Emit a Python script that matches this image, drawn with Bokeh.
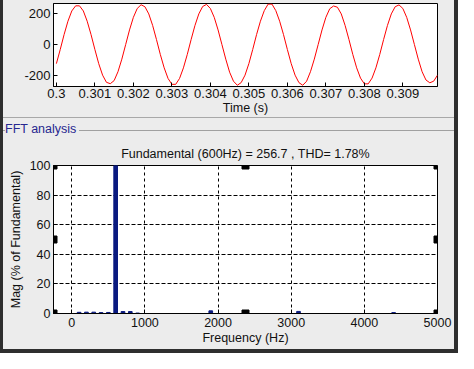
from bokeh.plotting import figure
from bokeh.models import FixedTicker, Range1d, Div
from bokeh.layouts import column
from bokeh.embed import file_html
from bokeh.resources import INLINE

# ---------------- data ----------------
t_start = 0.3
t_step = 0.0001
voltage = [
    -123, -32, 64, 150, 216, 249, 249, 216, 150, 64,
    -32, -123, -197, -243, -252, -232, -175, -94, 0, 94,
    175, 232, 256, 243, 197, 123, 32, -64, -150, -218,
    -256, -256, -218, -150, -64, 32, 123, 197, 245, 258,
    232, 175, 94, 0, -94, -178, -236, -262, -245, -197,
    -123, -32, 64, 150, 218, 260, 260, 218, 150, 64,
    -32, -123, -197, -245, -262, -236, -175, -94, 0, 94,
    175, 230, 248, 240, 197, 123, 32, -64, -150, -216,
    -253, -253, -216, -150, -64, 32, 123, 197, 243, 255,
    232, 175, 94, 0, -94, -175, -228, -246, -236, -197,
]
time_s = [t_start + t_step * i for i in range(len(voltage))]
time_ticks = [0.3, 0.301, 0.302, 0.303, 0.304, 0.305, 0.306, 0.307, 0.308, 0.309]
time_tick_labels = ["0.3", "0.301", "0.302", "0.303", "0.304", "0.305",
                    "0.306", "0.307", "0.308", "0.309"]
volt_ticks = [-200, 0, 200]
volt_tick_labels = ["-200", "0", "200"]

freq_hz = [100, 200, 300, 400, 500, 600, 700, 800, 900, 1900, 3100, 4400]
mag_pct = [0.8, 0.9, 0.9, 0.6, 0.7, 100, 1.3, 1.3, 0.3, 1.8, 1.4, 0.6]
freq_ticks = [0, 1000, 2000, 3000, 4000, 5000]
mag_ticks = [0, 20, 40, 60, 80, 100]

fft_title = "Fundamental (600Hz) = 256.7 , THD= 1.78%"

# ---------------- style ----------------
BG = "#ececec"
FONT = "Liberation Sans"
FS = "12.5px"
TXT = "#111111"
W = 451


def style_axes(p, fs=FS):
    for ax in (p.xaxis[0], p.yaxis[0]):
        ax.axis_line_color = "black"
        ax.major_tick_line_color = "black"
        ax.major_tick_in = 4
        ax.major_tick_out = 0
        ax.minor_tick_line_color = None
        ax.major_label_text_font = FONT
        ax.major_label_text_font_size = fs
        ax.major_label_text_color = TXT
        ax.axis_label_text_font = FONT
        ax.axis_label_text_font_size = FS
        ax.axis_label_text_font_style = "normal"
        ax.axis_label_text_color = TXT
    p.outline_line_color = "black"
    p.outline_line_alpha = 1.0
    p.background_fill_color = "white"
    p.border_fill_color = BG


# ---------------- top: time signal ----------------
p1 = figure(width=W, height=117, output_backend="svg", toolbar_location=None,
            x_range=Range1d(0.299925, 0.3099), y_range=Range1d(-270, 264),
            min_border_left=50, min_border_right=17, min_border_top=3,
            min_border_bottom=30)
p1.line(time_s, voltage, line_color="#ff0000", line_width=1)
p1.xaxis.ticker = FixedTicker(ticks=time_ticks)
p1.xaxis.major_label_overrides = dict(zip(time_ticks, time_tick_labels))
p1.yaxis.ticker = FixedTicker(ticks=volt_ticks)
p1.yaxis.major_label_overrides = dict(zip(volt_ticks, volt_tick_labels))
p1.xaxis.axis_label = "Time (s)"
p1.xaxis.major_label_standoff = 2
p1.xaxis.axis_label_standoff = 0
p1.yaxis.major_label_standoff = 3
p1.grid.visible = False
style_axes(p1, "13px")

# ---------------- middle: group-box caption ----------------
html = (
    f'<div style="position:relative;width:{W}px;height:21px;background:{BG};'
    f'border-top:1px solid #a8a8a8;box-sizing:border-box;">'
    f'<div style="position:absolute;left:0;right:0;top:12px;border-top:1px solid #a0a0a0;"></div>'
    f'<span style="position:absolute;left:2px;top:4px;padding-right:3px;background:{BG};'
    f'color:#27278f;font-family:\'{FONT}\';font-size:12.5px;line-height:14px;">FFT analysis</span>'
    f'</div>'
)
fft_div = Div(text=html, width=W, height=21, margin=(0, 0, 0, 0),
              styles={"background-color": BG})

# ---------------- bottom: FFT bars ----------------
x_lo, x_hi = -250, 5000
y_lo, y_hi = 0, 100
p2 = figure(width=W, height=211, output_backend="svg", toolbar_location=None,
            x_range=Range1d(x_lo, x_hi), y_range=Range1d(y_lo, y_hi),
            min_border_left=48, min_border_right=15, min_border_top=27,
            min_border_bottom=36)
p2.title.text = fft_title
p2.title.align = "center"
p2.title.text_font = FONT
p2.title.text_font_size = FS
p2.title.text_font_style = "normal"
p2.title.text_color = TXT
p2.vbar(x=freq_hz, top=mag_pct, width=50, bottom=0,
        fill_color="#0a1a80", line_color="#0a1a80")
p2.xaxis.ticker = FixedTicker(ticks=freq_ticks)
p2.yaxis.ticker = FixedTicker(ticks=mag_ticks)
p2.xaxis.axis_label = "Frequency (Hz)"
p2.yaxis.axis_label = "Mag (% of Fundamental)"
p2.xaxis.major_label_standoff = 4
p2.xaxis.axis_label_standoff = 1
p2.yaxis.major_label_standoff = 3
p2.yaxis.axis_label_standoff = 4
p2.xgrid.ticker = FixedTicker(ticks=freq_ticks)
p2.ygrid.ticker = FixedTicker(ticks=mag_ticks)
p2.xgrid.grid_line_color = "black"
p2.xgrid.grid_line_dash = "3 3"
p2.xgrid.grid_line_alpha = 1.0
p2.ygrid.grid_line_color = "black"
p2.ygrid.grid_line_dash = "4 2"
p2.ygrid.grid_line_alpha = 1.0
style_axes(p2)

# selection handles on the frame (corners and mid-edges)
x_mid = (x_lo + x_hi) / 2
y_mid = (y_lo + y_hi) / 2
p2.scatter(x=[x_lo, x_mid, x_hi, x_lo, x_hi, x_lo, x_mid, x_hi],
           y=[y_hi, y_hi, y_hi, y_mid, y_mid, y_lo, y_lo, y_lo],
           marker="square", size=7, fill_color="black", line_color="black")

layout = column(p1, fft_div, p2, spacing=0,
                styles={"background-color": BG,
                        "border-left": "3px solid #2e2e2e",
                        "border-right": "4px solid #2e2e2e",
                        "border-bottom": "4px solid #2e2e2e"})

open("out.html", "w").write(file_html(layout, INLINE))
